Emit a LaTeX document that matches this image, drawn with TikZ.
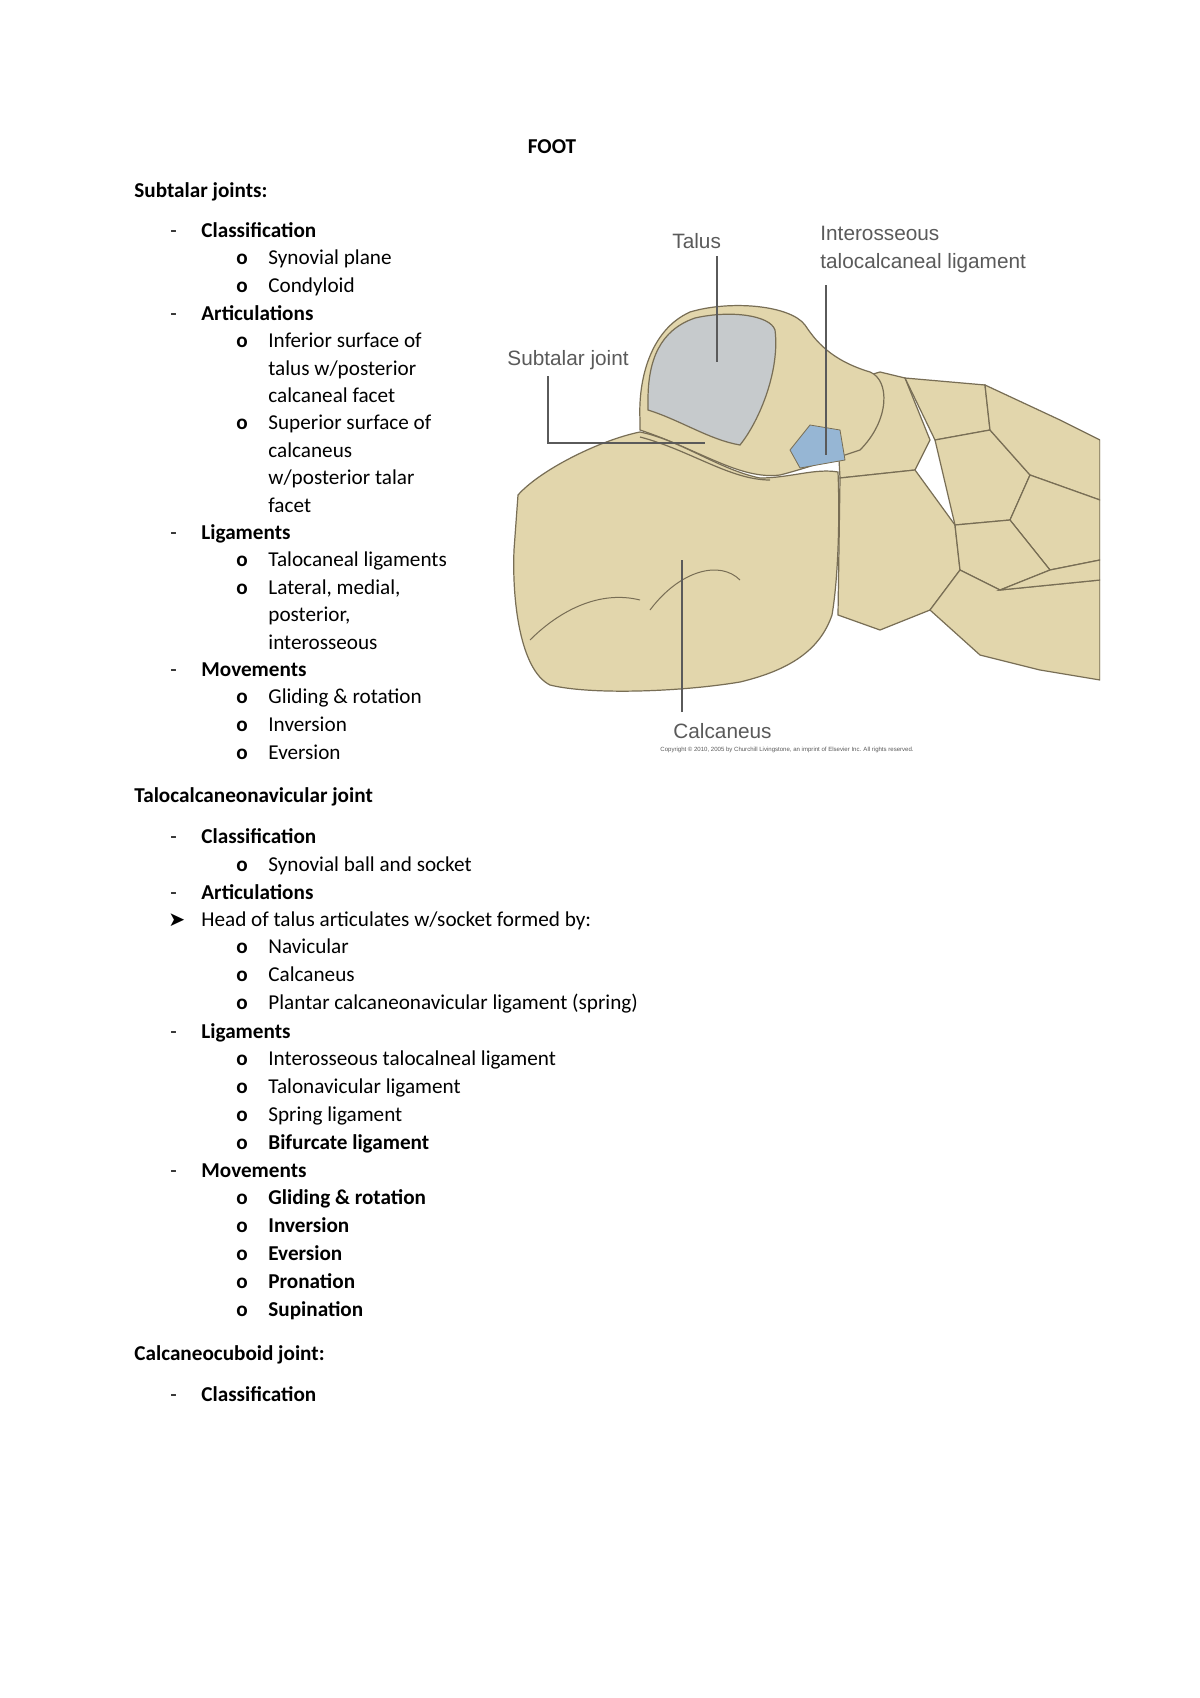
\documentclass[tikz,border=0pt]{standalone}
\usepackage{fontspec}
\setmainfont{Carlito}
\newfontfamily\arialf{Liberation Sans}
\newfontfamily\dejaf{DejaVu Sans}
\definecolor{bone}{RGB}{226,214,172}
\definecolor{boneline}{RGB}{120,110,85}
\definecolor{artic}{RGB}{198,202,204}
\definecolor{lig}{RGB}{150,182,212}
\definecolor{lblgrey}{RGB}{90,90,90}
\begin{document}
\begin{tikzpicture}[x=0.4958pt,y=-0.4958pt,
  txt/.style={anchor=base west,inner sep=0pt,font=\fontsize{10.5}{13}\selectfont},
  lbl/.style={anchor=west,inner sep=0pt,font=\arialf\fontsize{10.3}{14}\selectfont,text=lblgrey},
  bonefill/.style={fill=bone,draw=boneline,line width=0.6pt},
  lead/.style={draw=lblgrey,line width=0.7pt}]
\useasboundingbox (0,0) rectangle (1200,1698);
\fill[white] (0,0) rectangle (1200,1698);
% ---- text
\node[anchor=base,inner sep=0pt,font=\fontsize{10.5}{13}\selectfont\bfseries] (title) at (552,153) {FOOT};
\newcommand\hd[3]{\node[txt,font=\fontsize{10.5}{13}\selectfont\bfseries] (#1) at (134,#2) {#3};}
\newcommand\lone[3]{\node[txt] at (170,#2) {-};\node[txt,font=\fontsize{10.5}{13}\selectfont\bfseries] (#1) at (201,#2) {#3};}
\newcommand\ltwo[3]{\node[txt,font=\fontsize{10.5}{13}\selectfont\bfseries] at (236,#2) {o};\node[txt] (#1) at (268,#2) {#3};}
\newcommand\ltwob[3]{\node[txt,font=\fontsize{10.5}{13}\selectfont\bfseries] at (236,#2) {o};\node[txt,font=\fontsize{10.5}{13}\selectfont\bfseries] (#1) at (268,#2) {#3};}
\newcommand\cont[3]{\node[txt] (#1) at (268,#2) {#3};}
\hd{h1}{197}{Subtalar joints:}
\lone{a1}{237}{Classification}
\ltwo{a2}{264}{Synovial plane}
\ltwo{a3}{292}{Condyloid}
\lone{a4}{320}{Articulations}
\ltwo{a5}{347}{Inferior surface of}
\cont{a6}{375}{talus w/posterior}
\cont{a7}{402}{calcaneal facet}
\ltwo{a8}{429}{Superior surface of}
\cont{a9}{457}{calcaneus}
\cont{a10}{484}{w/posterior talar}
\cont{a11}{512}{facet}
\lone{a12}{539}{Ligaments}
\ltwo{a13}{566}{Talocaneal ligaments}
\ltwo{a14}{594}{Lateral, medial,}
\cont{a15}{621}{posterior,}
\cont{a16}{649}{interosseous}
\lone{a17}{676}{Movements}
\ltwo{a18}{703}{Gliding \& rotation}
\ltwo{a19}{731}{Inversion}
\ltwo{a20}{759}{Eversion}
\hd{h2}{802}{Talocalcaneonavicular joint}
\lone{b1}{843}{Classification}
\ltwo{b2}{871}{Synovial ball and socket}
\lone{b3}{899}{Articulations}
\node[txt,font=\dejaf\fontsize{10}{13}\selectfont] at (168,926) {➤};
\node[txt] (b4) at (201,926) {Head of talus articulates w/socket formed by:};
\ltwo{b5}{953}{Navicular}
\ltwo{b6}{981}{Calcaneus}
\ltwo{b7}{1009}{Plantar calcaneonavicular ligament (spring)}
\lone{b8}{1038}{Ligaments}
\ltwo{b9}{1065}{Interosseous talocalneal ligament}
\ltwo{b10}{1093}{Talonavicular ligament}
\ltwo{b11}{1121}{Spring ligament}
\ltwob{b12}{1149}{Bifurcate ligament}
\lone{b13}{1177}{Movements}
\ltwob{b14}{1204}{Gliding \& rotation}
\ltwob{b15}{1232}{Inversion}
\ltwob{b16}{1260}{Eversion}
\ltwob{b17}{1288}{Pronation}
\ltwob{b18}{1316}{Supination}
\hd{h3}{1360}{Calcaneocuboid joint:}
\lone{c1}{1401}{Classification}
% ---- illustration
\begin{scope}
\clip (505,290) rectangle (1100,715);
\path[bonefill] (835,385) -- (880,372) -- (905,378) -- (930,440) -- (915,470) -- (840,478) -- cycle;
\path[bonefill] (905,378) -- (985,385) -- (990,430) -- (935,440) -- cycle;
\path[bonefill] (935,440) -- (990,430) -- (1030,475) -- (1010,520) -- (955,525) -- cycle;
\path[bonefill] (985,385) -- (1060,420) -- (1100,440) -- (1100,500) -- (1030,475) -- (990,430) -- cycle;
\path[bonefill] (1030,475) -- (1100,500) -- (1100,560) -- (1050,570) -- (1010,520) -- cycle;
\path[bonefill] (840,478) -- (915,470) -- (955,525) -- (960,570) -- (930,610) -- (880,630) -- (838,615) -- cycle;
\path[bonefill] (955,525) -- (1010,520) -- (1050,570) -- (1000,590) -- (960,570) -- cycle;
\path[bonefill] (960,570) -- (1000,590) -- (1100,580) -- (1100,680) -- (1040,670) -- (980,655) -- (930,610) -- cycle;
\path[bonefill] (1050,570) -- (1100,560) -- (1100,580) -- (1000,590) -- cycle;
\path[bonefill] (640,420) .. controls (638,380) and (650,330) .. (690,312)
  .. controls (730,300) and (790,305) .. (805,325)
  .. controls (815,340) and (830,360) .. (870,372)
  .. controls (890,380) and (890,420) .. (860,450)
  .. controls (830,460) and (800,470) .. (780,475)
  .. controls (740,480) and (700,450) .. (640,430) -- cycle;
\path[fill=artic,draw=boneline,line width=0.6pt] (648,400) .. controls (648,360) and (660,330) .. (695,318)
  .. controls (730,310) and (770,315) .. (775,330)
  .. controls (780,370) and (760,420) .. (740,445)
  .. controls (710,440) and (680,420) .. (648,410) -- cycle;
\path[fill=lig,draw=boneline,line width=0.4pt] (790,450) -- (810,425) -- (840,430) -- (845,460) -- (800,468) -- cycle;
\path[bonefill] (518,495) .. controls (540,470) and (600,440) .. (640,432)
  .. controls (680,440) and (720,470) .. (760,478)
  .. controls (790,478) and (815,468) .. (838,472)
  .. controls (840,520) and (838,580) .. (832,615)
  .. controls (820,650) and (790,670) .. (740,682)
  .. controls (680,692) and (590,695) .. (550,685)
  .. controls (520,670) and (512,600) .. (514,550) -- cycle;
\draw[boneline,line width=0.6pt] (640,437) .. controls (690,450) and (730,480) .. (770,480);
\draw[boneline,line width=0.5pt] (530,640) .. controls (560,610) and (600,590) .. (640,600);
\draw[boneline,line width=0.5pt] (650,610) .. controls (680,570) and (720,560) .. (740,580);
\end{scope}
\node[lbl] (talus) at (672,241) {Talus};
\node[lbl,align=left,anchor=north west] (inter) at (820,226) {Interosseous\\talocalcaneal ligament};
\node[lbl] (subt) at (507,360) {Subtalar joint};
\node[lbl] (calc) at (673,731) {Calcaneus};
\node[anchor=west,inner sep=0pt,font=\arialf\fontsize{3}{4}\selectfont,text=lblgrey] (copy) at (660,750) {Copyright \copyright\ 2010, 2005 by Churchill Livingstone, an imprint of Elsevier Inc. All rights reserved.};
\coordinate (t1) at (717,362);
\coordinate (i1) at (826,455);
\coordinate (s1) at (548,443);
\coordinate (s2) at (705,443);
\coordinate (c1) at (682,560);
\draw[lead] (717,256) -- (t1);
\draw[lead] (826,285) -- (i1);
\draw[lead] (548,376) -- (s1) -- (s2);
\draw[lead] (682,712) -- (c1);
\end{tikzpicture}
\end{document}
